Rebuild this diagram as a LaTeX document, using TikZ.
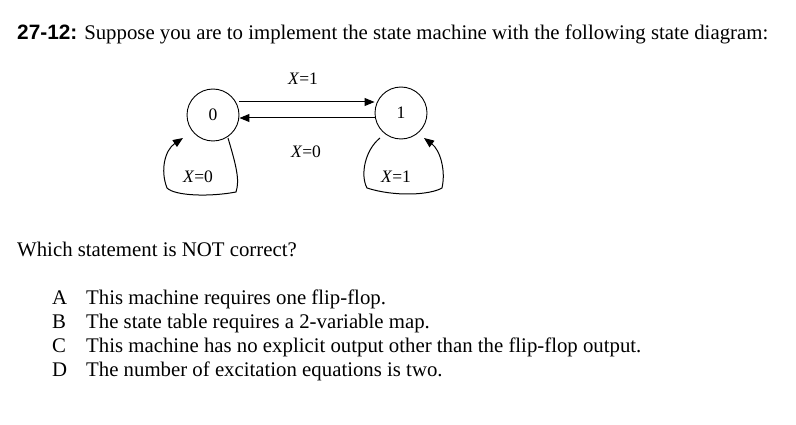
\documentclass[tikz,border=0pt]{standalone}
\usepackage{fontspec}
\setmainfont{Liberation Serif}
\newfontfamily\titlefont{Liberation Sans}
\usetikzlibrary{arrows.meta}
\begin{document}
\begin{tikzpicture}[x=1pt,y=-1pt,
  txt/.style={anchor=base west,inner sep=0,font=\fontsize{20.8}{24}\selectfont},
  lbl/.style={inner sep=0,font=\fontsize{17.5}{20}\selectfont},
  st/.style={draw,circle,line width=0.9pt,minimum size=52pt,inner sep=0,font=\fontsize{17.5}{20}\selectfont},
  arr/.style={-{Triangle[length=10pt,width=8pt]},line width=1pt}]
\useasboundingbox (0,0) rectangle (796,425);
\node[txt] (t) at (17,40) {{\titlefont\bfseries 27-12:} Suppose you are to implement the state machine with the following state diagram:};
\node[st] (s0) at (213,115) {0};
\node[st] (s1) at (401,113) {1};
\draw[arr] (s0.east |- 0,102) -- (s1.west |- 0,102);
\draw[arr] (s1.west |- 0,118) -- (s0.east |- 0,118);
\node[lbl] (l1) at (303,79) {\textit{X}=1};
\node[lbl] (l0) at (306,152) {\textit{X}=0};
\coordinate (a0) at (228,138);
\coordinate (b0) at (183,138);
\draw[arr] (a0) .. controls (236,165) and (240,180) .. (236,192)
  .. controls (210,197) and (175,196) .. (167,188)
  .. controls (160,170) and (165,150) .. (b0);
\node[lbl] (x0) at (198,177) {\textit{X}=0};
\coordinate (a1) at (380,138);
\coordinate (b1) at (424,138);
\draw[arr] (a1) .. controls (365,150) and (360,175) .. (367,188)
  .. controls (395,197) and (430,195) .. (442,188)
  .. controls (446,170) and (440,150) .. (b1);
\node[lbl] (x1) at (396,177) {\textit{X}=1};
\node[txt] (q) at (17,256) {Which statement is NOT correct?};
\node[txt] (A) at (52,304) {A};\node[txt] (At) at (86,304) {This machine requires one flip-flop.};
\node[txt] (B) at (52,328) {B};\node[txt] (Bt) at (86,328) {The state table requires a 2-variable map.};
\node[txt] (C) at (52,352) {C};\node[txt] (Ct) at (86,352) {This machine has no explicit output other than the flip-flop output.};
\node[txt] (D) at (52,376) {D};\node[txt] (Dt) at (86,376) {The number of excitation equations is two.};
\end{tikzpicture}
\end{document}
